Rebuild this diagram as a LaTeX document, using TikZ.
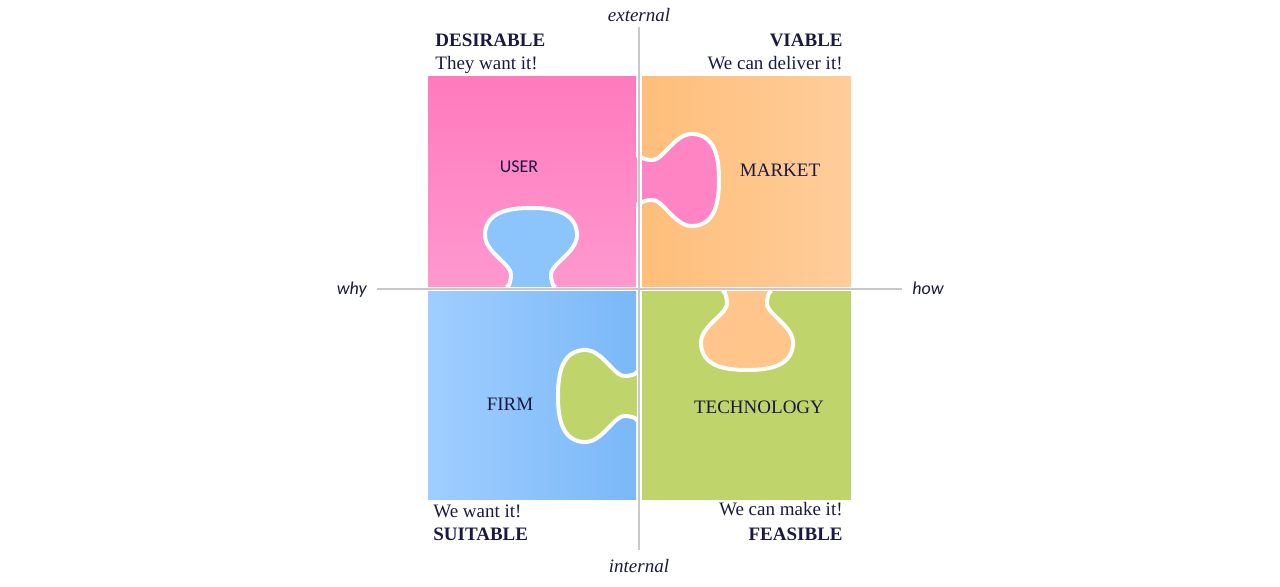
\documentclass[tikz,border=0pt]{standalone}
\usepackage{fontspec}
\setmainfont{Liberation Serif}
\newfontfamily\calibri{Carlito}

\definecolor{texto}{RGB}{25,25,65}
\definecolor{gris}{RGB}{200,200,200}
\definecolor{rosaA}{RGB}{255,122,190}
\definecolor{rosaB}{RGB}{255,152,206}
\definecolor{rosaL}{RGB}{255,132,196}
\definecolor{naranjaA}{RGB}{255,190,122}
\definecolor{naranjaB}{RGB}{255,205,154}
\definecolor{naranjaL}{RGB}{255,197,138}
\definecolor{azulA}{RGB}{160,206,255}
\definecolor{azulB}{RGB}{122,184,248}
\definecolor{azulL}{RGB}{140,196,252}
\definecolor{verde}{RGB}{191,212,107}

% contorno de una lengueta (base en v=0, sale hacia v>0)
\newcommand{\contorno}{(-25,4) .. controls (-22,4) and (-21,8) .. (-20,14)
  .. controls (-17,27) and (-48,38) .. (-46,58)
  .. controls (-44,78) and (-25,83) .. (0,83)
  .. controls (25,83) and (44,78) .. (46,58)
  .. controls (48,38) and (17,27) .. (20,14)
  .. controls (21,8) and (22,4) .. (25,4)}
\newcommand{\lengueta}[4]{%
  \begin{scope}[shift={(#1,#2)}, rotate=#3]
    \fill[#4] (-22,0) -- \contorno -- (22,0) -- cycle;
    \draw[white, line width=2pt] \contorno;
  \end{scope}}

\tikzset{
  etiq/.style={inner sep=0pt, text=texto, font=\fontsize{9.5}{11}\selectfont},
  titulo/.style={etiq, font=\fontsize{9.5}{11}\selectfont\bfseries},
  ejetxt/.style={etiq, font=\fontsize{9.5}{11}\selectfont\itshape},
  ejesans/.style={etiq, font=\fontsize{9}{11}\calibri\itshape},
}

\begin{document}
\begin{tikzpicture}[x=0.5pt,y=-0.5pt]
\useasboundingbox (0,0) rectangle (1280,587);

% Piezas
\shade[top color=rosaA, bottom color=rosaB] (428,77) rectangle (636,287);
\shade[left color=naranjaA, right color=naranjaB] (641,77) rectangle (851,287);
\shade[left color=azulA, right color=azulB] (428,291) rectangle (636,500);
\fill[verde] (641,291) rectangle (851,500);

% Lenguetas
\lengueta{531}{291}{180}{azulL}
\lengueta{636}{180}{90}{rosaL}
\lengueta{641}{396}{-90}{verde}
\lengueta{747}{287}{0}{naranjaL}

% Ejes
\draw[white, line width=2.5pt] (639,20) -- (639,556);
\draw[white, line width=2pt] (370,289) -- (910,289);
\draw[gris, line width=1pt] (639,27) -- (639,550);
\draw[gris, line width=1pt] (377,289) -- (902,289);

% Textos de los ejes
\node[ejetxt, anchor=base] (ext) at (639,22) {external};
\node[ejetxt, anchor=base] (int) at (639,572) {internal};
\node[ejesans, anchor=base east] (why) at (367,295) {why};
\node[ejesans, anchor=base west] (how) at (912,295) {how};

% Esquinas
\node[titulo, anchor=base west] (des) at (435,47) {DESIRABLE};
\node[etiq, anchor=base west] (desq) at (435,70) {They want it!};
\node[titulo, anchor=base east] (via) at (843,47) {VIABLE};
\node[etiq, anchor=base east] (viaq) at (843,70) {We can deliver it!};
\node[etiq, anchor=base west] (suiq) at (433,517) {We want it!};
\node[titulo, anchor=base west] (sui) at (433,540) {SUITABLE};
\node[etiq, anchor=base east] (feaq) at (843,516) {We can make it!};
\node[titulo, anchor=base east] (fea) at (843,540) {FEASIBLE};

% Nombres de las piezas
\node[etiq, font=\fontsize{9}{11}\calibri, anchor=base] (user) at (519,173) {USER};
\node[etiq, anchor=base] (market) at (780,177) {MARKET};
\node[etiq, anchor=base] (firm) at (510,411) {FIRM};
\node[etiq, anchor=base] (tech) at (759,414) {TECHNOLOGY};
\end{tikzpicture}
\end{document}
